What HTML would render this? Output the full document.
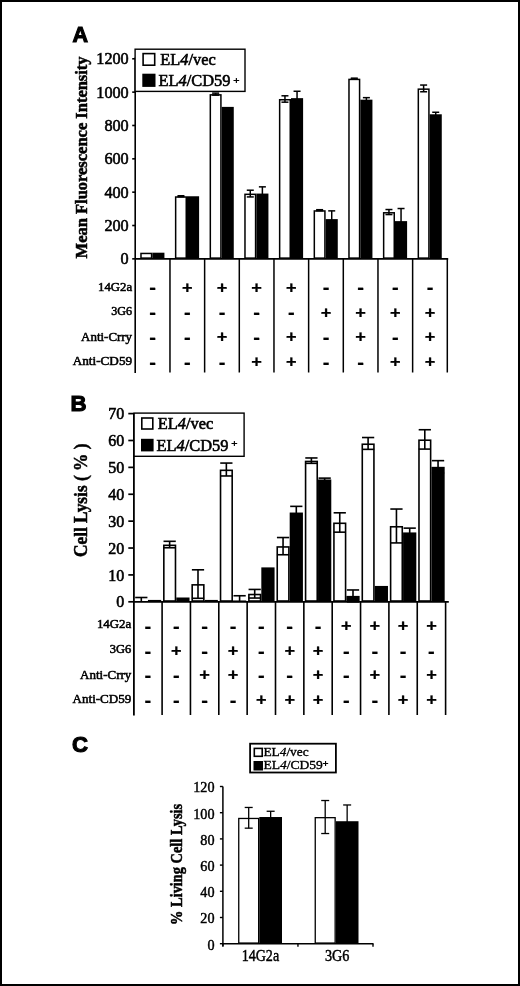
<!DOCTYPE html><html><head><meta charset="utf-8"><title>Figure</title><style>html,body{margin:0;padding:0;background:#fff;}svg{display:block;}</style></head><body>
<svg width="520" height="986" viewBox="0 0 520 986">
<rect x="0" y="0" width="520" height="986" fill="#fff"/>
<g stroke="#000" fill="#000">
<text x="72.60" y="42.20" font-size="21.5" text-anchor="start" font-weight="bold" font-family="'Liberation Sans', Arial, sans-serif" stroke="#000" stroke-width="1.1" >A</text>
<text transform="translate(86.9,157.4) rotate(-90)" x="0" y="0" font-size="16.8" text-anchor="middle" font-weight="bold" font-family="'Liberation Serif', 'Times New Roman', serif" stroke="#000" stroke-width="0.5" textLength="202" lengthAdjust="spacingAndGlyphs">Mean Fluorescence Intensity</text>
<line x1="132.20" y1="258.85" x2="135.20" y2="258.85" stroke-width="1.6"/>
<text x="128.70" y="264.45" font-size="16.8" text-anchor="end" font-weight="normal" font-family="'Liberation Serif', 'Times New Roman', serif" stroke="#000" stroke-width="0.6"  textLength="8.1" lengthAdjust="spacingAndGlyphs">0</text>
<line x1="132.20" y1="225.51" x2="135.20" y2="225.51" stroke-width="1.6"/>
<text x="128.70" y="231.11" font-size="16.8" text-anchor="end" font-weight="normal" font-family="'Liberation Serif', 'Times New Roman', serif" stroke="#000" stroke-width="0.6"  textLength="24.299999999999997" lengthAdjust="spacingAndGlyphs">200</text>
<line x1="132.20" y1="192.17" x2="135.20" y2="192.17" stroke-width="1.6"/>
<text x="128.70" y="197.77" font-size="16.8" text-anchor="end" font-weight="normal" font-family="'Liberation Serif', 'Times New Roman', serif" stroke="#000" stroke-width="0.6"  textLength="24.299999999999997" lengthAdjust="spacingAndGlyphs">400</text>
<line x1="132.20" y1="158.83" x2="135.20" y2="158.83" stroke-width="1.6"/>
<text x="128.70" y="164.43" font-size="16.8" text-anchor="end" font-weight="normal" font-family="'Liberation Serif', 'Times New Roman', serif" stroke="#000" stroke-width="0.6"  textLength="24.299999999999997" lengthAdjust="spacingAndGlyphs">600</text>
<line x1="132.20" y1="125.48" x2="135.20" y2="125.48" stroke-width="1.6"/>
<text x="128.70" y="131.08" font-size="16.8" text-anchor="end" font-weight="normal" font-family="'Liberation Serif', 'Times New Roman', serif" stroke="#000" stroke-width="0.6"  textLength="24.299999999999997" lengthAdjust="spacingAndGlyphs">800</text>
<line x1="132.20" y1="92.14" x2="135.20" y2="92.14" stroke-width="1.6"/>
<text x="128.70" y="97.74" font-size="16.8" text-anchor="end" font-weight="normal" font-family="'Liberation Serif', 'Times New Roman', serif" stroke="#000" stroke-width="0.6"  textLength="32.4" lengthAdjust="spacingAndGlyphs">1000</text>
<line x1="132.20" y1="58.80" x2="135.20" y2="58.80" stroke-width="1.6"/>
<text x="128.70" y="64.40" font-size="16.8" text-anchor="end" font-weight="normal" font-family="'Liberation Serif', 'Times New Roman', serif" stroke="#000" stroke-width="0.6"  textLength="32.4" lengthAdjust="spacingAndGlyphs">1200</text>
<line x1="135.20" y1="57.50" x2="135.20" y2="373.00" stroke-width="1.6"/>
<line x1="135.20" y1="258.85" x2="448.20" y2="258.85" stroke-width="1.6"/>
<line x1="169.97" y1="258.85" x2="169.97" y2="372.50" stroke-width="1.5"/>
<line x1="204.63" y1="258.85" x2="204.63" y2="372.50" stroke-width="1.5"/>
<line x1="239.30" y1="258.85" x2="239.30" y2="372.50" stroke-width="1.5"/>
<line x1="273.97" y1="258.85" x2="273.97" y2="372.50" stroke-width="1.5"/>
<line x1="308.63" y1="258.85" x2="308.63" y2="372.50" stroke-width="1.5"/>
<line x1="343.30" y1="258.85" x2="343.30" y2="372.50" stroke-width="1.5"/>
<line x1="377.97" y1="258.85" x2="377.97" y2="372.50" stroke-width="1.5"/>
<line x1="412.63" y1="258.85" x2="412.63" y2="372.50" stroke-width="1.5"/>
<line x1="447.30" y1="258.85" x2="447.30" y2="372.50" stroke-width="1.5"/>
<rect x="140.98" y="253.45" width="10.60" height="4.65" fill="#fff" stroke="#000" stroke-width="1.5"/>
<rect x="152.33" y="252.70" width="12.10" height="6.15" fill="#000" stroke="none"/>
<rect x="175.65" y="197.01" width="10.60" height="61.09" fill="#fff" stroke="#000" stroke-width="1.5"/>
<rect x="187.00" y="196.26" width="12.10" height="62.59" fill="#000" stroke="none"/>
<line x1="180.95" y1="195.75" x2="180.95" y2="196.76" stroke-width="1.5"/>
<line x1="177.45" y1="195.75" x2="184.45" y2="195.75" stroke-width="1.5"/>
<line x1="177.45" y1="196.76" x2="184.45" y2="196.76" stroke-width="1.5"/>
<rect x="210.32" y="94.87" width="10.60" height="163.23" fill="#fff" stroke="#000" stroke-width="1.5"/>
<rect x="221.67" y="106.89" width="12.10" height="151.96" fill="#000" stroke="none"/>
<line x1="215.62" y1="93.11" x2="215.62" y2="95.13" stroke-width="1.5"/>
<line x1="212.12" y1="93.11" x2="219.12" y2="93.11" stroke-width="1.5"/>
<line x1="212.12" y1="95.13" x2="219.12" y2="95.13" stroke-width="1.5"/>
<rect x="244.98" y="194.32" width="10.60" height="63.78" fill="#fff" stroke="#000" stroke-width="1.5"/>
<rect x="256.33" y="193.57" width="12.10" height="65.28" fill="#000" stroke="none"/>
<line x1="250.28" y1="190.21" x2="250.28" y2="196.93" stroke-width="1.5"/>
<line x1="246.78" y1="190.21" x2="253.78" y2="190.21" stroke-width="1.5"/>
<line x1="246.78" y1="196.93" x2="253.78" y2="196.93" stroke-width="1.5"/>
<line x1="262.38" y1="186.85" x2="262.38" y2="200.29" stroke-width="1.5"/>
<line x1="258.88" y1="186.85" x2="265.88" y2="186.85" stroke-width="1.5"/>
<line x1="258.88" y1="200.29" x2="265.88" y2="200.29" stroke-width="1.5"/>
<rect x="279.65" y="99.74" width="10.60" height="158.36" fill="#fff" stroke="#000" stroke-width="1.5"/>
<rect x="291.00" y="98.15" width="12.10" height="160.70" fill="#000" stroke="none"/>
<line x1="284.95" y1="95.80" x2="284.95" y2="102.18" stroke-width="1.5"/>
<line x1="281.45" y1="95.80" x2="288.45" y2="95.80" stroke-width="1.5"/>
<line x1="281.45" y1="102.18" x2="288.45" y2="102.18" stroke-width="1.5"/>
<line x1="297.05" y1="91.26" x2="297.05" y2="105.04" stroke-width="1.5"/>
<line x1="293.55" y1="91.26" x2="300.55" y2="91.26" stroke-width="1.5"/>
<line x1="293.55" y1="105.04" x2="300.55" y2="105.04" stroke-width="1.5"/>
<rect x="314.32" y="210.95" width="10.60" height="47.15" fill="#fff" stroke="#000" stroke-width="1.5"/>
<rect x="325.67" y="219.10" width="12.10" height="39.75" fill="#000" stroke="none"/>
<line x1="319.62" y1="209.70" x2="319.62" y2="210.70" stroke-width="1.5"/>
<line x1="316.12" y1="209.70" x2="323.12" y2="209.70" stroke-width="1.5"/>
<line x1="316.12" y1="210.70" x2="323.12" y2="210.70" stroke-width="1.5"/>
<line x1="331.72" y1="210.87" x2="331.72" y2="227.34" stroke-width="1.5"/>
<line x1="328.22" y1="210.87" x2="335.22" y2="210.87" stroke-width="1.5"/>
<line x1="328.22" y1="227.34" x2="335.22" y2="227.34" stroke-width="1.5"/>
<rect x="348.98" y="79.41" width="10.60" height="178.69" fill="#fff" stroke="#000" stroke-width="1.5"/>
<rect x="360.33" y="99.66" width="12.10" height="159.19" fill="#000" stroke="none"/>
<line x1="354.28" y1="78.16" x2="354.28" y2="79.17" stroke-width="1.5"/>
<line x1="350.78" y1="78.16" x2="357.78" y2="78.16" stroke-width="1.5"/>
<line x1="350.78" y1="79.17" x2="357.78" y2="79.17" stroke-width="1.5"/>
<line x1="366.38" y1="97.65" x2="366.38" y2="101.68" stroke-width="1.5"/>
<line x1="362.88" y1="97.65" x2="369.88" y2="97.65" stroke-width="1.5"/>
<line x1="362.88" y1="101.68" x2="369.88" y2="101.68" stroke-width="1.5"/>
<rect x="383.65" y="212.80" width="10.60" height="45.30" fill="#fff" stroke="#000" stroke-width="1.5"/>
<rect x="395.00" y="221.12" width="12.10" height="37.73" fill="#000" stroke="none"/>
<line x1="388.95" y1="209.53" x2="388.95" y2="214.57" stroke-width="1.5"/>
<line x1="385.45" y1="209.53" x2="392.45" y2="209.53" stroke-width="1.5"/>
<line x1="385.45" y1="214.57" x2="392.45" y2="214.57" stroke-width="1.5"/>
<line x1="401.05" y1="208.52" x2="401.05" y2="233.72" stroke-width="1.5"/>
<line x1="397.55" y1="208.52" x2="404.55" y2="208.52" stroke-width="1.5"/>
<line x1="397.55" y1="233.72" x2="404.55" y2="233.72" stroke-width="1.5"/>
<rect x="418.32" y="89.16" width="10.60" height="168.94" fill="#fff" stroke="#000" stroke-width="1.5"/>
<rect x="429.67" y="114.28" width="12.10" height="144.57" fill="#000" stroke="none"/>
<line x1="423.62" y1="85.05" x2="423.62" y2="91.77" stroke-width="1.5"/>
<line x1="420.12" y1="85.05" x2="427.12" y2="85.05" stroke-width="1.5"/>
<line x1="420.12" y1="91.77" x2="427.12" y2="91.77" stroke-width="1.5"/>
<line x1="435.72" y1="112.26" x2="435.72" y2="116.29" stroke-width="1.5"/>
<line x1="432.22" y1="112.26" x2="439.22" y2="112.26" stroke-width="1.5"/>
<line x1="432.22" y1="116.29" x2="439.22" y2="116.29" stroke-width="1.5"/>
<rect x="135.10" y="49.20" width="109.90" height="42.20" fill="#fff" stroke="#000" stroke-width="1.4"/>
<rect x="143.10" y="53.60" width="11.60" height="11.60" fill="#fff" stroke="#000" stroke-width="1.6"/>
<rect x="142.30" y="73.70" width="13.20" height="13.20" fill="#000" stroke="none"/>
<text x="160.30" y="64.80" font-size="16.3" text-anchor="start" font-weight="normal" font-family="'Liberation Serif', 'Times New Roman', serif" stroke="#000" stroke-width="0.6"  textLength="55.5" lengthAdjust="spacingAndGlyphs">EL<tspan font-style="italic">4</tspan>/vec</text>
<text x="158.50" y="85.90" font-size="16.3" text-anchor="start" font-weight="normal" font-family="'Liberation Serif', 'Times New Roman', serif" stroke="#000" stroke-width="0.6"  textLength="72" lengthAdjust="spacingAndGlyphs">EL<tspan font-style="italic">4</tspan>/CD59</text>
<text x="233.20" y="83.60" font-size="11" text-anchor="start" font-weight="normal" font-family="'Liberation Serif', 'Times New Roman', serif" stroke="#000" stroke-width="0.55" >+</text>
<text x="132.10" y="291.00" font-size="12.8" text-anchor="end" font-weight="normal" font-family="'Liberation Serif', 'Times New Roman', serif" stroke="#000" stroke-width="0.55"  textLength="34" lengthAdjust="spacingAndGlyphs">14G2a</text>
<text x="132.10" y="315.30" font-size="12.8" text-anchor="end" font-weight="normal" font-family="'Liberation Serif', 'Times New Roman', serif" stroke="#000" stroke-width="0.55"  textLength="20.9" lengthAdjust="spacingAndGlyphs">3G6</text>
<text x="132.10" y="340.60" font-size="12.8" text-anchor="end" font-weight="normal" font-family="'Liberation Serif', 'Times New Roman', serif" stroke="#000" stroke-width="0.55"  textLength="51" lengthAdjust="spacingAndGlyphs">Anti-Crry</text>
<text x="132.10" y="365.30" font-size="12.8" text-anchor="end" font-weight="normal" font-family="'Liberation Serif', 'Times New Roman', serif" stroke="#000" stroke-width="0.55"  textLength="59.4" lengthAdjust="spacingAndGlyphs">Anti-CD59</text>
<text transform="translate(152.67,294.36) scale(1.22,1.1)" x="0" y="0" font-size="16.5" text-anchor="middle" font-weight="bold" font-family="'Liberation Sans', Arial, sans-serif" stroke="#000" stroke-width="0.2">-</text>
<text transform="translate(187.30,292.56) scale(1.1,0.95)" x="0" y="0" font-size="16.5" text-anchor="middle" font-weight="bold" font-family="'Liberation Sans', Arial, sans-serif" stroke="#000" stroke-width="0.25">+</text>
<text transform="translate(221.97,292.56) scale(1.1,0.95)" x="0" y="0" font-size="16.5" text-anchor="middle" font-weight="bold" font-family="'Liberation Sans', Arial, sans-serif" stroke="#000" stroke-width="0.25">+</text>
<text transform="translate(256.63,292.56) scale(1.1,0.95)" x="0" y="0" font-size="16.5" text-anchor="middle" font-weight="bold" font-family="'Liberation Sans', Arial, sans-serif" stroke="#000" stroke-width="0.25">+</text>
<text transform="translate(291.30,292.56) scale(1.1,0.95)" x="0" y="0" font-size="16.5" text-anchor="middle" font-weight="bold" font-family="'Liberation Sans', Arial, sans-serif" stroke="#000" stroke-width="0.25">+</text>
<text transform="translate(326.01,294.36) scale(1.22,1.1)" x="0" y="0" font-size="16.5" text-anchor="middle" font-weight="bold" font-family="'Liberation Sans', Arial, sans-serif" stroke="#000" stroke-width="0.2">-</text>
<text transform="translate(360.67,294.36) scale(1.22,1.1)" x="0" y="0" font-size="16.5" text-anchor="middle" font-weight="bold" font-family="'Liberation Sans', Arial, sans-serif" stroke="#000" stroke-width="0.2">-</text>
<text transform="translate(395.34,294.36) scale(1.22,1.1)" x="0" y="0" font-size="16.5" text-anchor="middle" font-weight="bold" font-family="'Liberation Sans', Arial, sans-serif" stroke="#000" stroke-width="0.2">-</text>
<text transform="translate(430.01,294.36) scale(1.22,1.1)" x="0" y="0" font-size="16.5" text-anchor="middle" font-weight="bold" font-family="'Liberation Sans', Arial, sans-serif" stroke="#000" stroke-width="0.2">-</text>
<text transform="translate(152.67,319.36) scale(1.22,1.1)" x="0" y="0" font-size="16.5" text-anchor="middle" font-weight="bold" font-family="'Liberation Sans', Arial, sans-serif" stroke="#000" stroke-width="0.2">-</text>
<text transform="translate(187.34,319.36) scale(1.22,1.1)" x="0" y="0" font-size="16.5" text-anchor="middle" font-weight="bold" font-family="'Liberation Sans', Arial, sans-serif" stroke="#000" stroke-width="0.2">-</text>
<text transform="translate(222.01,319.36) scale(1.22,1.1)" x="0" y="0" font-size="16.5" text-anchor="middle" font-weight="bold" font-family="'Liberation Sans', Arial, sans-serif" stroke="#000" stroke-width="0.2">-</text>
<text transform="translate(256.67,319.36) scale(1.22,1.1)" x="0" y="0" font-size="16.5" text-anchor="middle" font-weight="bold" font-family="'Liberation Sans', Arial, sans-serif" stroke="#000" stroke-width="0.2">-</text>
<text transform="translate(291.34,319.36) scale(1.22,1.1)" x="0" y="0" font-size="16.5" text-anchor="middle" font-weight="bold" font-family="'Liberation Sans', Arial, sans-serif" stroke="#000" stroke-width="0.2">-</text>
<text transform="translate(325.97,317.56) scale(1.1,0.95)" x="0" y="0" font-size="16.5" text-anchor="middle" font-weight="bold" font-family="'Liberation Sans', Arial, sans-serif" stroke="#000" stroke-width="0.25">+</text>
<text transform="translate(360.63,317.56) scale(1.1,0.95)" x="0" y="0" font-size="16.5" text-anchor="middle" font-weight="bold" font-family="'Liberation Sans', Arial, sans-serif" stroke="#000" stroke-width="0.25">+</text>
<text transform="translate(395.30,317.56) scale(1.1,0.95)" x="0" y="0" font-size="16.5" text-anchor="middle" font-weight="bold" font-family="'Liberation Sans', Arial, sans-serif" stroke="#000" stroke-width="0.25">+</text>
<text transform="translate(429.97,317.56) scale(1.1,0.95)" x="0" y="0" font-size="16.5" text-anchor="middle" font-weight="bold" font-family="'Liberation Sans', Arial, sans-serif" stroke="#000" stroke-width="0.25">+</text>
<text transform="translate(152.67,344.26) scale(1.22,1.1)" x="0" y="0" font-size="16.5" text-anchor="middle" font-weight="bold" font-family="'Liberation Sans', Arial, sans-serif" stroke="#000" stroke-width="0.2">-</text>
<text transform="translate(187.34,344.26) scale(1.22,1.1)" x="0" y="0" font-size="16.5" text-anchor="middle" font-weight="bold" font-family="'Liberation Sans', Arial, sans-serif" stroke="#000" stroke-width="0.2">-</text>
<text transform="translate(221.97,342.46) scale(1.1,0.95)" x="0" y="0" font-size="16.5" text-anchor="middle" font-weight="bold" font-family="'Liberation Sans', Arial, sans-serif" stroke="#000" stroke-width="0.25">+</text>
<text transform="translate(256.67,344.26) scale(1.22,1.1)" x="0" y="0" font-size="16.5" text-anchor="middle" font-weight="bold" font-family="'Liberation Sans', Arial, sans-serif" stroke="#000" stroke-width="0.2">-</text>
<text transform="translate(291.30,342.46) scale(1.1,0.95)" x="0" y="0" font-size="16.5" text-anchor="middle" font-weight="bold" font-family="'Liberation Sans', Arial, sans-serif" stroke="#000" stroke-width="0.25">+</text>
<text transform="translate(326.01,344.26) scale(1.22,1.1)" x="0" y="0" font-size="16.5" text-anchor="middle" font-weight="bold" font-family="'Liberation Sans', Arial, sans-serif" stroke="#000" stroke-width="0.2">-</text>
<text transform="translate(360.63,342.46) scale(1.1,0.95)" x="0" y="0" font-size="16.5" text-anchor="middle" font-weight="bold" font-family="'Liberation Sans', Arial, sans-serif" stroke="#000" stroke-width="0.25">+</text>
<text transform="translate(395.34,344.26) scale(1.22,1.1)" x="0" y="0" font-size="16.5" text-anchor="middle" font-weight="bold" font-family="'Liberation Sans', Arial, sans-serif" stroke="#000" stroke-width="0.2">-</text>
<text transform="translate(429.97,342.46) scale(1.1,0.95)" x="0" y="0" font-size="16.5" text-anchor="middle" font-weight="bold" font-family="'Liberation Sans', Arial, sans-serif" stroke="#000" stroke-width="0.25">+</text>
<text transform="translate(152.67,369.26) scale(1.22,1.1)" x="0" y="0" font-size="16.5" text-anchor="middle" font-weight="bold" font-family="'Liberation Sans', Arial, sans-serif" stroke="#000" stroke-width="0.2">-</text>
<text transform="translate(187.34,369.26) scale(1.22,1.1)" x="0" y="0" font-size="16.5" text-anchor="middle" font-weight="bold" font-family="'Liberation Sans', Arial, sans-serif" stroke="#000" stroke-width="0.2">-</text>
<text transform="translate(222.01,369.26) scale(1.22,1.1)" x="0" y="0" font-size="16.5" text-anchor="middle" font-weight="bold" font-family="'Liberation Sans', Arial, sans-serif" stroke="#000" stroke-width="0.2">-</text>
<text transform="translate(256.63,367.46) scale(1.1,0.95)" x="0" y="0" font-size="16.5" text-anchor="middle" font-weight="bold" font-family="'Liberation Sans', Arial, sans-serif" stroke="#000" stroke-width="0.25">+</text>
<text transform="translate(291.30,367.46) scale(1.1,0.95)" x="0" y="0" font-size="16.5" text-anchor="middle" font-weight="bold" font-family="'Liberation Sans', Arial, sans-serif" stroke="#000" stroke-width="0.25">+</text>
<text transform="translate(326.01,369.26) scale(1.22,1.1)" x="0" y="0" font-size="16.5" text-anchor="middle" font-weight="bold" font-family="'Liberation Sans', Arial, sans-serif" stroke="#000" stroke-width="0.2">-</text>
<text transform="translate(360.67,369.26) scale(1.22,1.1)" x="0" y="0" font-size="16.5" text-anchor="middle" font-weight="bold" font-family="'Liberation Sans', Arial, sans-serif" stroke="#000" stroke-width="0.2">-</text>
<text transform="translate(395.30,367.46) scale(1.1,0.95)" x="0" y="0" font-size="16.5" text-anchor="middle" font-weight="bold" font-family="'Liberation Sans', Arial, sans-serif" stroke="#000" stroke-width="0.25">+</text>
<text transform="translate(429.97,367.46) scale(1.1,0.95)" x="0" y="0" font-size="16.5" text-anchor="middle" font-weight="bold" font-family="'Liberation Sans', Arial, sans-serif" stroke="#000" stroke-width="0.25">+</text>
<text x="70.60" y="410.70" font-size="22.2" text-anchor="start" font-weight="bold" font-family="'Liberation Sans', Arial, sans-serif" stroke="#000" stroke-width="1.1" >B</text>
<text transform="translate(87.3,500.3) rotate(-90)" x="0" y="0" font-size="19" text-anchor="middle" font-weight="bold" font-family="'Liberation Serif', 'Times New Roman', serif" stroke="#000" stroke-width="0.5" textLength="113.5" lengthAdjust="spacingAndGlyphs">Cell Lysis ( % )</text>
<line x1="128.30" y1="601.80" x2="133.90" y2="601.80" stroke-width="1.7"/>
<text x="124.20" y="607.40" font-size="16.6" text-anchor="end" font-weight="normal" font-family="'Liberation Serif', 'Times New Roman', serif" stroke="#000" stroke-width="0.6"  textLength="8.0" lengthAdjust="spacingAndGlyphs">0</text>
<line x1="128.30" y1="574.91" x2="133.90" y2="574.91" stroke-width="1.7"/>
<text x="124.20" y="580.51" font-size="16.6" text-anchor="end" font-weight="normal" font-family="'Liberation Serif', 'Times New Roman', serif" stroke="#000" stroke-width="0.6"  textLength="16.0" lengthAdjust="spacingAndGlyphs">10</text>
<line x1="128.30" y1="548.03" x2="133.90" y2="548.03" stroke-width="1.7"/>
<text x="124.20" y="553.63" font-size="16.6" text-anchor="end" font-weight="normal" font-family="'Liberation Serif', 'Times New Roman', serif" stroke="#000" stroke-width="0.6"  textLength="16.0" lengthAdjust="spacingAndGlyphs">20</text>
<line x1="128.30" y1="521.14" x2="133.90" y2="521.14" stroke-width="1.7"/>
<text x="124.20" y="526.74" font-size="16.6" text-anchor="end" font-weight="normal" font-family="'Liberation Serif', 'Times New Roman', serif" stroke="#000" stroke-width="0.6"  textLength="16.0" lengthAdjust="spacingAndGlyphs">30</text>
<line x1="128.30" y1="494.26" x2="133.90" y2="494.26" stroke-width="1.7"/>
<text x="124.20" y="499.86" font-size="16.6" text-anchor="end" font-weight="normal" font-family="'Liberation Serif', 'Times New Roman', serif" stroke="#000" stroke-width="0.6"  textLength="16.0" lengthAdjust="spacingAndGlyphs">40</text>
<line x1="128.30" y1="467.37" x2="133.90" y2="467.37" stroke-width="1.7"/>
<text x="124.20" y="472.97" font-size="16.6" text-anchor="end" font-weight="normal" font-family="'Liberation Serif', 'Times New Roman', serif" stroke="#000" stroke-width="0.6"  textLength="16.0" lengthAdjust="spacingAndGlyphs">50</text>
<line x1="128.30" y1="440.49" x2="133.90" y2="440.49" stroke-width="1.7"/>
<text x="124.20" y="446.09" font-size="16.6" text-anchor="end" font-weight="normal" font-family="'Liberation Serif', 'Times New Roman', serif" stroke="#000" stroke-width="0.6"  textLength="16.0" lengthAdjust="spacingAndGlyphs">60</text>
<line x1="128.30" y1="413.60" x2="133.90" y2="413.60" stroke-width="1.7"/>
<text x="124.20" y="419.20" font-size="16.6" text-anchor="end" font-weight="normal" font-family="'Liberation Serif', 'Times New Roman', serif" stroke="#000" stroke-width="0.6"  textLength="16.0" lengthAdjust="spacingAndGlyphs">70</text>
<line x1="133.90" y1="413.00" x2="133.90" y2="715.50" stroke-width="1.8"/>
<line x1="133.90" y1="601.80" x2="448.80" y2="601.80" stroke-width="1.7"/>
<line x1="162.10" y1="601.80" x2="162.10" y2="715.00" stroke-width="1.6"/>
<line x1="190.45" y1="601.80" x2="190.45" y2="715.00" stroke-width="1.6"/>
<line x1="218.80" y1="601.80" x2="218.80" y2="715.00" stroke-width="1.6"/>
<line x1="247.15" y1="601.80" x2="247.15" y2="715.00" stroke-width="1.6"/>
<line x1="275.50" y1="601.80" x2="275.50" y2="715.00" stroke-width="1.6"/>
<line x1="303.85" y1="601.80" x2="303.85" y2="715.00" stroke-width="1.6"/>
<line x1="332.20" y1="601.80" x2="332.20" y2="715.00" stroke-width="1.6"/>
<line x1="360.55" y1="601.80" x2="360.55" y2="715.00" stroke-width="1.6"/>
<line x1="388.90" y1="601.80" x2="388.90" y2="715.00" stroke-width="1.6"/>
<line x1="417.25" y1="601.80" x2="417.25" y2="715.00" stroke-width="1.6"/>
<line x1="445.60" y1="601.80" x2="445.60" y2="715.00" stroke-width="1.6"/>
<rect x="135.48" y="602.20" width="11.65" height="-1.20" fill="#fff" stroke="#000" stroke-width="1.6"/>
<rect x="147.93" y="599.92" width="13.25" height="1.88" fill="#000" stroke="none"/>
<line x1="141.30" y1="597.50" x2="141.30" y2="601.80" stroke-width="1.6"/>
<line x1="135.18" y1="597.50" x2="147.43" y2="597.50" stroke-width="1.6"/>
<rect x="163.83" y="545.33" width="11.65" height="55.67" fill="#fff" stroke="#000" stroke-width="1.6"/>
<rect x="176.28" y="597.50" width="13.25" height="4.30" fill="#000" stroke="none"/>
<line x1="169.65" y1="541.31" x2="169.65" y2="547.76" stroke-width="1.6"/>
<line x1="163.53" y1="541.31" x2="175.78" y2="541.31" stroke-width="1.6"/>
<line x1="163.53" y1="547.76" x2="175.78" y2="547.76" stroke-width="1.6"/>
<rect x="192.18" y="584.86" width="11.65" height="16.14" fill="#fff" stroke="#000" stroke-width="1.6"/>
<rect x="204.62" y="599.92" width="13.25" height="1.88" fill="#000" stroke="none"/>
<line x1="198.00" y1="569.81" x2="198.00" y2="598.30" stroke-width="1.6"/>
<line x1="191.88" y1="569.81" x2="204.12" y2="569.81" stroke-width="1.6"/>
<line x1="191.88" y1="598.30" x2="204.12" y2="598.30" stroke-width="1.6"/>
<rect x="220.53" y="470.32" width="11.65" height="130.68" fill="#fff" stroke="#000" stroke-width="1.6"/>
<rect x="232.98" y="600.46" width="13.25" height="1.34" fill="#000" stroke="none"/>
<line x1="226.35" y1="463.07" x2="226.35" y2="475.97" stroke-width="1.6"/>
<line x1="220.23" y1="463.07" x2="232.48" y2="463.07" stroke-width="1.6"/>
<line x1="220.23" y1="475.97" x2="232.48" y2="475.97" stroke-width="1.6"/>
<line x1="239.60" y1="595.75" x2="239.60" y2="601.80" stroke-width="1.6"/>
<line x1="233.48" y1="595.75" x2="245.73" y2="595.75" stroke-width="1.6"/>
<rect x="248.88" y="594.53" width="11.65" height="6.47" fill="#fff" stroke="#000" stroke-width="1.6"/>
<rect x="261.32" y="567.39" width="13.25" height="34.41" fill="#000" stroke="none"/>
<line x1="254.70" y1="589.43" x2="254.70" y2="598.04" stroke-width="1.6"/>
<line x1="248.57" y1="589.43" x2="260.82" y2="589.43" stroke-width="1.6"/>
<line x1="248.57" y1="598.04" x2="260.82" y2="598.04" stroke-width="1.6"/>
<rect x="277.23" y="546.95" width="11.65" height="54.05" fill="#fff" stroke="#000" stroke-width="1.6"/>
<rect x="289.68" y="512.54" width="13.25" height="89.26" fill="#000" stroke="none"/>
<line x1="283.05" y1="537.54" x2="283.05" y2="554.75" stroke-width="1.6"/>
<line x1="276.93" y1="537.54" x2="289.18" y2="537.54" stroke-width="1.6"/>
<line x1="276.93" y1="554.75" x2="289.18" y2="554.75" stroke-width="1.6"/>
<line x1="296.30" y1="506.36" x2="296.30" y2="518.72" stroke-width="1.6"/>
<line x1="290.18" y1="506.36" x2="302.43" y2="506.36" stroke-width="1.6"/>
<line x1="290.18" y1="518.72" x2="302.43" y2="518.72" stroke-width="1.6"/>
<rect x="305.58" y="461.45" width="11.65" height="139.55" fill="#fff" stroke="#000" stroke-width="1.6"/>
<rect x="318.03" y="479.47" width="13.25" height="122.33" fill="#000" stroke="none"/>
<line x1="311.40" y1="457.96" x2="311.40" y2="463.34" stroke-width="1.6"/>
<line x1="305.28" y1="457.96" x2="317.53" y2="457.96" stroke-width="1.6"/>
<line x1="305.28" y1="463.34" x2="317.53" y2="463.34" stroke-width="1.6"/>
<line x1="324.65" y1="478.13" x2="324.65" y2="480.81" stroke-width="1.6"/>
<line x1="318.53" y1="478.13" x2="330.78" y2="478.13" stroke-width="1.6"/>
<line x1="318.53" y1="480.81" x2="330.78" y2="480.81" stroke-width="1.6"/>
<rect x="333.93" y="523.29" width="11.65" height="77.71" fill="#fff" stroke="#000" stroke-width="1.6"/>
<rect x="346.38" y="595.89" width="13.25" height="5.91" fill="#000" stroke="none"/>
<line x1="339.75" y1="512.81" x2="339.75" y2="532.17" stroke-width="1.6"/>
<line x1="333.63" y1="512.81" x2="345.88" y2="512.81" stroke-width="1.6"/>
<line x1="333.63" y1="532.17" x2="345.88" y2="532.17" stroke-width="1.6"/>
<line x1="353.00" y1="589.97" x2="353.00" y2="601.80" stroke-width="1.6"/>
<line x1="346.88" y1="589.97" x2="359.13" y2="589.97" stroke-width="1.6"/>
<line x1="346.88" y1="601.80" x2="359.13" y2="601.80" stroke-width="1.6"/>
<rect x="362.28" y="444.24" width="11.65" height="156.76" fill="#fff" stroke="#000" stroke-width="1.6"/>
<rect x="374.73" y="585.94" width="13.25" height="15.86" fill="#000" stroke="none"/>
<line x1="368.10" y1="437.53" x2="368.10" y2="449.36" stroke-width="1.6"/>
<line x1="361.98" y1="437.53" x2="374.23" y2="437.53" stroke-width="1.6"/>
<line x1="361.98" y1="449.36" x2="374.23" y2="449.36" stroke-width="1.6"/>
<rect x="390.62" y="526.78" width="11.65" height="74.22" fill="#fff" stroke="#000" stroke-width="1.6"/>
<rect x="403.07" y="532.43" width="13.25" height="69.37" fill="#000" stroke="none"/>
<line x1="396.45" y1="509.04" x2="396.45" y2="542.92" stroke-width="1.6"/>
<line x1="390.32" y1="509.04" x2="402.57" y2="509.04" stroke-width="1.6"/>
<line x1="390.32" y1="542.92" x2="402.57" y2="542.92" stroke-width="1.6"/>
<line x1="409.70" y1="528.13" x2="409.70" y2="536.74" stroke-width="1.6"/>
<line x1="403.57" y1="528.13" x2="415.82" y2="528.13" stroke-width="1.6"/>
<line x1="403.57" y1="536.74" x2="415.82" y2="536.74" stroke-width="1.6"/>
<rect x="418.98" y="440.21" width="11.65" height="160.79" fill="#fff" stroke="#000" stroke-width="1.6"/>
<rect x="431.43" y="466.83" width="13.25" height="134.97" fill="#000" stroke="none"/>
<line x1="424.80" y1="429.73" x2="424.80" y2="449.09" stroke-width="1.6"/>
<line x1="418.68" y1="429.73" x2="430.93" y2="429.73" stroke-width="1.6"/>
<line x1="418.68" y1="449.09" x2="430.93" y2="449.09" stroke-width="1.6"/>
<line x1="438.05" y1="460.65" x2="438.05" y2="473.02" stroke-width="1.6"/>
<line x1="431.93" y1="460.65" x2="444.18" y2="460.65" stroke-width="1.6"/>
<line x1="431.93" y1="473.02" x2="444.18" y2="473.02" stroke-width="1.6"/>
<rect x="134.10" y="413.10" width="110.00" height="43.20" fill="#fff" stroke="#000" stroke-width="1.4"/>
<rect x="141.80" y="418.00" width="11.00" height="11.00" fill="#fff" stroke="#000" stroke-width="1.6"/>
<rect x="141.00" y="438.80" width="12.60" height="12.60" fill="#000" stroke="none"/>
<text x="157.70" y="429.00" font-size="16.3" text-anchor="start" font-weight="normal" font-family="'Liberation Serif', 'Times New Roman', serif" stroke="#000" stroke-width="0.6"  textLength="55.5" lengthAdjust="spacingAndGlyphs">EL<tspan font-style="italic">4</tspan>/vec</text>
<text x="156.50" y="450.60" font-size="16.3" text-anchor="start" font-weight="normal" font-family="'Liberation Serif', 'Times New Roman', serif" stroke="#000" stroke-width="0.6"  textLength="72" lengthAdjust="spacingAndGlyphs">EL<tspan font-style="italic">4</tspan>/CD59</text>
<text x="231.30" y="447.10" font-size="11" text-anchor="start" font-weight="normal" font-family="'Liberation Serif', 'Times New Roman', serif" stroke="#000" stroke-width="0.55" >+</text>
<text x="131.30" y="628.20" font-size="12.8" text-anchor="end" font-weight="normal" font-family="'Liberation Serif', 'Times New Roman', serif" stroke="#000" stroke-width="0.55"  textLength="34.4" lengthAdjust="spacingAndGlyphs">14G2a</text>
<text x="131.30" y="653.10" font-size="12.8" text-anchor="end" font-weight="normal" font-family="'Liberation Serif', 'Times New Roman', serif" stroke="#000" stroke-width="0.55"  textLength="21.5" lengthAdjust="spacingAndGlyphs">3G6</text>
<text x="131.30" y="678.50" font-size="12.8" text-anchor="end" font-weight="normal" font-family="'Liberation Serif', 'Times New Roman', serif" stroke="#000" stroke-width="0.55"  textLength="51.2" lengthAdjust="spacingAndGlyphs">Anti-Crry</text>
<text x="131.30" y="703.20" font-size="12.8" text-anchor="end" font-weight="normal" font-family="'Liberation Serif', 'Times New Roman', serif" stroke="#000" stroke-width="0.55"  textLength="58.7" lengthAdjust="spacingAndGlyphs">Anti-CD59</text>
<text transform="translate(147.97,632.86) scale(1.22,1.1)" x="0" y="0" font-size="16.5" text-anchor="middle" font-weight="bold" font-family="'Liberation Sans', Arial, sans-serif" stroke="#000" stroke-width="0.2">-</text>
<text transform="translate(176.31,632.86) scale(1.22,1.1)" x="0" y="0" font-size="16.5" text-anchor="middle" font-weight="bold" font-family="'Liberation Sans', Arial, sans-serif" stroke="#000" stroke-width="0.2">-</text>
<text transform="translate(204.66,632.86) scale(1.22,1.1)" x="0" y="0" font-size="16.5" text-anchor="middle" font-weight="bold" font-family="'Liberation Sans', Arial, sans-serif" stroke="#000" stroke-width="0.2">-</text>
<text transform="translate(233.02,632.86) scale(1.22,1.1)" x="0" y="0" font-size="16.5" text-anchor="middle" font-weight="bold" font-family="'Liberation Sans', Arial, sans-serif" stroke="#000" stroke-width="0.2">-</text>
<text transform="translate(261.37,632.86) scale(1.22,1.1)" x="0" y="0" font-size="16.5" text-anchor="middle" font-weight="bold" font-family="'Liberation Sans', Arial, sans-serif" stroke="#000" stroke-width="0.2">-</text>
<text transform="translate(289.72,632.86) scale(1.22,1.1)" x="0" y="0" font-size="16.5" text-anchor="middle" font-weight="bold" font-family="'Liberation Sans', Arial, sans-serif" stroke="#000" stroke-width="0.2">-</text>
<text transform="translate(318.07,632.86) scale(1.22,1.1)" x="0" y="0" font-size="16.5" text-anchor="middle" font-weight="bold" font-family="'Liberation Sans', Arial, sans-serif" stroke="#000" stroke-width="0.2">-</text>
<text transform="translate(346.38,631.06) scale(1.1,0.95)" x="0" y="0" font-size="16.5" text-anchor="middle" font-weight="bold" font-family="'Liberation Sans', Arial, sans-serif" stroke="#000" stroke-width="0.25">+</text>
<text transform="translate(374.73,631.06) scale(1.1,0.95)" x="0" y="0" font-size="16.5" text-anchor="middle" font-weight="bold" font-family="'Liberation Sans', Arial, sans-serif" stroke="#000" stroke-width="0.25">+</text>
<text transform="translate(403.07,631.06) scale(1.1,0.95)" x="0" y="0" font-size="16.5" text-anchor="middle" font-weight="bold" font-family="'Liberation Sans', Arial, sans-serif" stroke="#000" stroke-width="0.25">+</text>
<text transform="translate(431.43,631.06) scale(1.1,0.95)" x="0" y="0" font-size="16.5" text-anchor="middle" font-weight="bold" font-family="'Liberation Sans', Arial, sans-serif" stroke="#000" stroke-width="0.25">+</text>
<text transform="translate(147.97,657.56) scale(1.22,1.1)" x="0" y="0" font-size="16.5" text-anchor="middle" font-weight="bold" font-family="'Liberation Sans', Arial, sans-serif" stroke="#000" stroke-width="0.2">-</text>
<text transform="translate(176.28,655.76) scale(1.1,0.95)" x="0" y="0" font-size="16.5" text-anchor="middle" font-weight="bold" font-family="'Liberation Sans', Arial, sans-serif" stroke="#000" stroke-width="0.25">+</text>
<text transform="translate(204.66,657.56) scale(1.22,1.1)" x="0" y="0" font-size="16.5" text-anchor="middle" font-weight="bold" font-family="'Liberation Sans', Arial, sans-serif" stroke="#000" stroke-width="0.2">-</text>
<text transform="translate(232.98,655.76) scale(1.1,0.95)" x="0" y="0" font-size="16.5" text-anchor="middle" font-weight="bold" font-family="'Liberation Sans', Arial, sans-serif" stroke="#000" stroke-width="0.25">+</text>
<text transform="translate(261.37,657.56) scale(1.22,1.1)" x="0" y="0" font-size="16.5" text-anchor="middle" font-weight="bold" font-family="'Liberation Sans', Arial, sans-serif" stroke="#000" stroke-width="0.2">-</text>
<text transform="translate(289.68,655.76) scale(1.1,0.95)" x="0" y="0" font-size="16.5" text-anchor="middle" font-weight="bold" font-family="'Liberation Sans', Arial, sans-serif" stroke="#000" stroke-width="0.25">+</text>
<text transform="translate(318.03,655.76) scale(1.1,0.95)" x="0" y="0" font-size="16.5" text-anchor="middle" font-weight="bold" font-family="'Liberation Sans', Arial, sans-serif" stroke="#000" stroke-width="0.25">+</text>
<text transform="translate(346.42,657.56) scale(1.22,1.1)" x="0" y="0" font-size="16.5" text-anchor="middle" font-weight="bold" font-family="'Liberation Sans', Arial, sans-serif" stroke="#000" stroke-width="0.2">-</text>
<text transform="translate(374.77,657.56) scale(1.22,1.1)" x="0" y="0" font-size="16.5" text-anchor="middle" font-weight="bold" font-family="'Liberation Sans', Arial, sans-serif" stroke="#000" stroke-width="0.2">-</text>
<text transform="translate(403.12,657.56) scale(1.22,1.1)" x="0" y="0" font-size="16.5" text-anchor="middle" font-weight="bold" font-family="'Liberation Sans', Arial, sans-serif" stroke="#000" stroke-width="0.2">-</text>
<text transform="translate(431.47,657.56) scale(1.22,1.1)" x="0" y="0" font-size="16.5" text-anchor="middle" font-weight="bold" font-family="'Liberation Sans', Arial, sans-serif" stroke="#000" stroke-width="0.2">-</text>
<text transform="translate(147.97,682.26) scale(1.22,1.1)" x="0" y="0" font-size="16.5" text-anchor="middle" font-weight="bold" font-family="'Liberation Sans', Arial, sans-serif" stroke="#000" stroke-width="0.2">-</text>
<text transform="translate(176.31,682.26) scale(1.22,1.1)" x="0" y="0" font-size="16.5" text-anchor="middle" font-weight="bold" font-family="'Liberation Sans', Arial, sans-serif" stroke="#000" stroke-width="0.2">-</text>
<text transform="translate(204.62,680.46) scale(1.1,0.95)" x="0" y="0" font-size="16.5" text-anchor="middle" font-weight="bold" font-family="'Liberation Sans', Arial, sans-serif" stroke="#000" stroke-width="0.25">+</text>
<text transform="translate(232.98,680.46) scale(1.1,0.95)" x="0" y="0" font-size="16.5" text-anchor="middle" font-weight="bold" font-family="'Liberation Sans', Arial, sans-serif" stroke="#000" stroke-width="0.25">+</text>
<text transform="translate(261.37,682.26) scale(1.22,1.1)" x="0" y="0" font-size="16.5" text-anchor="middle" font-weight="bold" font-family="'Liberation Sans', Arial, sans-serif" stroke="#000" stroke-width="0.2">-</text>
<text transform="translate(289.72,682.26) scale(1.22,1.1)" x="0" y="0" font-size="16.5" text-anchor="middle" font-weight="bold" font-family="'Liberation Sans', Arial, sans-serif" stroke="#000" stroke-width="0.2">-</text>
<text transform="translate(318.03,680.46) scale(1.1,0.95)" x="0" y="0" font-size="16.5" text-anchor="middle" font-weight="bold" font-family="'Liberation Sans', Arial, sans-serif" stroke="#000" stroke-width="0.25">+</text>
<text transform="translate(346.42,682.26) scale(1.22,1.1)" x="0" y="0" font-size="16.5" text-anchor="middle" font-weight="bold" font-family="'Liberation Sans', Arial, sans-serif" stroke="#000" stroke-width="0.2">-</text>
<text transform="translate(374.73,680.46) scale(1.1,0.95)" x="0" y="0" font-size="16.5" text-anchor="middle" font-weight="bold" font-family="'Liberation Sans', Arial, sans-serif" stroke="#000" stroke-width="0.25">+</text>
<text transform="translate(403.12,682.26) scale(1.22,1.1)" x="0" y="0" font-size="16.5" text-anchor="middle" font-weight="bold" font-family="'Liberation Sans', Arial, sans-serif" stroke="#000" stroke-width="0.2">-</text>
<text transform="translate(431.43,680.46) scale(1.1,0.95)" x="0" y="0" font-size="16.5" text-anchor="middle" font-weight="bold" font-family="'Liberation Sans', Arial, sans-serif" stroke="#000" stroke-width="0.25">+</text>
<text transform="translate(147.97,707.01) scale(1.22,1.1)" x="0" y="0" font-size="16.5" text-anchor="middle" font-weight="bold" font-family="'Liberation Sans', Arial, sans-serif" stroke="#000" stroke-width="0.2">-</text>
<text transform="translate(176.31,707.01) scale(1.22,1.1)" x="0" y="0" font-size="16.5" text-anchor="middle" font-weight="bold" font-family="'Liberation Sans', Arial, sans-serif" stroke="#000" stroke-width="0.2">-</text>
<text transform="translate(204.66,707.01) scale(1.22,1.1)" x="0" y="0" font-size="16.5" text-anchor="middle" font-weight="bold" font-family="'Liberation Sans', Arial, sans-serif" stroke="#000" stroke-width="0.2">-</text>
<text transform="translate(233.02,707.01) scale(1.22,1.1)" x="0" y="0" font-size="16.5" text-anchor="middle" font-weight="bold" font-family="'Liberation Sans', Arial, sans-serif" stroke="#000" stroke-width="0.2">-</text>
<text transform="translate(261.32,705.21) scale(1.1,0.95)" x="0" y="0" font-size="16.5" text-anchor="middle" font-weight="bold" font-family="'Liberation Sans', Arial, sans-serif" stroke="#000" stroke-width="0.25">+</text>
<text transform="translate(289.68,705.21) scale(1.1,0.95)" x="0" y="0" font-size="16.5" text-anchor="middle" font-weight="bold" font-family="'Liberation Sans', Arial, sans-serif" stroke="#000" stroke-width="0.25">+</text>
<text transform="translate(318.03,705.21) scale(1.1,0.95)" x="0" y="0" font-size="16.5" text-anchor="middle" font-weight="bold" font-family="'Liberation Sans', Arial, sans-serif" stroke="#000" stroke-width="0.25">+</text>
<text transform="translate(346.42,707.01) scale(1.22,1.1)" x="0" y="0" font-size="16.5" text-anchor="middle" font-weight="bold" font-family="'Liberation Sans', Arial, sans-serif" stroke="#000" stroke-width="0.2">-</text>
<text transform="translate(374.77,707.01) scale(1.22,1.1)" x="0" y="0" font-size="16.5" text-anchor="middle" font-weight="bold" font-family="'Liberation Sans', Arial, sans-serif" stroke="#000" stroke-width="0.2">-</text>
<text transform="translate(403.07,705.21) scale(1.1,0.95)" x="0" y="0" font-size="16.5" text-anchor="middle" font-weight="bold" font-family="'Liberation Sans', Arial, sans-serif" stroke="#000" stroke-width="0.25">+</text>
<text transform="translate(431.43,705.21) scale(1.1,0.95)" x="0" y="0" font-size="16.5" text-anchor="middle" font-weight="bold" font-family="'Liberation Sans', Arial, sans-serif" stroke="#000" stroke-width="0.25">+</text>
<text x="72.00" y="752.40" font-size="22.2" text-anchor="start" font-weight="bold" font-family="'Liberation Sans', Arial, sans-serif" stroke="#000" stroke-width="1.1" >C</text>
<text transform="translate(182.4,864.4) rotate(-90)" x="0" y="0" font-size="16.6" text-anchor="middle" font-weight="bold" font-family="'Liberation Serif', 'Times New Roman', serif" stroke="#000" stroke-width="0.5" textLength="121" lengthAdjust="spacingAndGlyphs">% Living Cell Lysis</text>
<line x1="219.90" y1="943.70" x2="222.90" y2="943.70" stroke-width="1.4"/>
<text x="214.50" y="949.50" font-size="14.6" text-anchor="end" font-weight="normal" font-family="'Liberation Serif', 'Times New Roman', serif" stroke="#000" stroke-width="0.45"  textLength="7.1" lengthAdjust="spacingAndGlyphs">0</text>
<line x1="219.90" y1="917.50" x2="222.90" y2="917.50" stroke-width="1.4"/>
<text x="214.50" y="923.30" font-size="14.6" text-anchor="end" font-weight="normal" font-family="'Liberation Serif', 'Times New Roman', serif" stroke="#000" stroke-width="0.45"  textLength="14.2" lengthAdjust="spacingAndGlyphs">20</text>
<line x1="219.90" y1="891.30" x2="222.90" y2="891.30" stroke-width="1.4"/>
<text x="214.50" y="897.10" font-size="14.6" text-anchor="end" font-weight="normal" font-family="'Liberation Serif', 'Times New Roman', serif" stroke="#000" stroke-width="0.45"  textLength="14.2" lengthAdjust="spacingAndGlyphs">40</text>
<line x1="219.90" y1="865.10" x2="222.90" y2="865.10" stroke-width="1.4"/>
<text x="214.50" y="870.90" font-size="14.6" text-anchor="end" font-weight="normal" font-family="'Liberation Serif', 'Times New Roman', serif" stroke="#000" stroke-width="0.45"  textLength="14.2" lengthAdjust="spacingAndGlyphs">60</text>
<line x1="219.90" y1="838.90" x2="222.90" y2="838.90" stroke-width="1.4"/>
<text x="214.50" y="844.70" font-size="14.6" text-anchor="end" font-weight="normal" font-family="'Liberation Serif', 'Times New Roman', serif" stroke="#000" stroke-width="0.45"  textLength="14.2" lengthAdjust="spacingAndGlyphs">80</text>
<line x1="219.90" y1="812.70" x2="222.90" y2="812.70" stroke-width="1.4"/>
<text x="214.50" y="818.50" font-size="14.6" text-anchor="end" font-weight="normal" font-family="'Liberation Serif', 'Times New Roman', serif" stroke="#000" stroke-width="0.45"  textLength="21.299999999999997" lengthAdjust="spacingAndGlyphs">100</text>
<line x1="219.90" y1="786.50" x2="222.90" y2="786.50" stroke-width="1.4"/>
<text x="214.50" y="792.30" font-size="14.6" text-anchor="end" font-weight="normal" font-family="'Liberation Serif', 'Times New Roman', serif" stroke="#000" stroke-width="0.45"  textLength="21.299999999999997" lengthAdjust="spacingAndGlyphs">120</text>
<line x1="222.90" y1="786.50" x2="222.90" y2="946.30" stroke-width="1.5"/>
<line x1="222.90" y1="943.70" x2="373.50" y2="943.70" stroke-width="1.5"/>
<line x1="222.90" y1="943.70" x2="222.90" y2="946.70" stroke-width="1.4"/>
<line x1="297.95" y1="943.70" x2="297.95" y2="946.70" stroke-width="1.4"/>
<line x1="373.00" y1="943.70" x2="373.00" y2="946.70" stroke-width="1.4"/>
<rect x="238.75" y="818.46" width="19.90" height="124.59" fill="#fff" stroke="#000" stroke-width="1.3"/>
<rect x="259.30" y="817.02" width="22.70" height="126.68" fill="#000" stroke="none"/>
<line x1="248.70" y1="807.46" x2="248.70" y2="828.16" stroke-width="1.3"/>
<line x1="244.70" y1="807.46" x2="252.70" y2="807.46" stroke-width="1.3"/>
<line x1="244.70" y1="828.16" x2="252.70" y2="828.16" stroke-width="1.3"/>
<line x1="270.65" y1="811.26" x2="270.65" y2="822.79" stroke-width="1.3"/>
<line x1="266.65" y1="811.26" x2="274.65" y2="811.26" stroke-width="1.3"/>
<line x1="266.65" y1="822.79" x2="274.65" y2="822.79" stroke-width="1.3"/>
<rect x="315.25" y="817.67" width="19.90" height="125.38" fill="#fff" stroke="#000" stroke-width="1.3"/>
<rect x="335.80" y="821.22" width="22.70" height="122.49" fill="#000" stroke="none"/>
<line x1="325.20" y1="800.52" x2="325.20" y2="833.53" stroke-width="1.3"/>
<line x1="321.20" y1="800.52" x2="329.20" y2="800.52" stroke-width="1.3"/>
<line x1="321.20" y1="833.53" x2="329.20" y2="833.53" stroke-width="1.3"/>
<line x1="347.15" y1="804.97" x2="347.15" y2="837.46" stroke-width="1.3"/>
<line x1="343.15" y1="804.97" x2="351.15" y2="804.97" stroke-width="1.3"/>
<line x1="343.15" y1="837.46" x2="351.15" y2="837.46" stroke-width="1.3"/>
<text x="260.40" y="960.50" font-size="16" text-anchor="middle" font-weight="normal" font-family="'Liberation Serif', 'Times New Roman', serif" stroke="#000" stroke-width="0.45"  textLength="37.5" lengthAdjust="spacingAndGlyphs">14G2a</text>
<text x="337.20" y="960.80" font-size="16" text-anchor="middle" font-weight="normal" font-family="'Liberation Serif', 'Times New Roman', serif" stroke="#000" stroke-width="0.45"  textLength="24.5" lengthAdjust="spacingAndGlyphs">3G6</text>
<rect x="250.10" y="743.70" width="85.80" height="28.80" fill="#fff" stroke="#000" stroke-width="1.8"/>
<rect x="254.30" y="748.40" width="7.90" height="7.90" fill="#fff" stroke="#000" stroke-width="1.6"/>
<rect x="253.50" y="761.00" width="9.50" height="9.50" fill="#000" stroke="none"/>
<text x="263.40" y="756.00" font-size="12.2" text-anchor="start" font-weight="normal" font-family="'Liberation Serif', 'Times New Roman', serif" stroke="#000" stroke-width="0.35"  textLength="45.3" lengthAdjust="spacingAndGlyphs">EL<tspan font-style="italic">4</tspan>/vec</text>
<text x="263.40" y="769.20" font-size="12.2" text-anchor="start" font-weight="normal" font-family="'Liberation Serif', 'Times New Roman', serif" stroke="#000" stroke-width="0.35"  textLength="59.5" lengthAdjust="spacingAndGlyphs">EL<tspan font-style="italic">4</tspan>/CD59</text>
<text x="322.80" y="766.50" font-size="10" text-anchor="start" font-weight="normal" font-family="'Liberation Serif', 'Times New Roman', serif" stroke="#000" stroke-width="0.55" >+</text>
</g>
<rect x="1" y="1" width="518" height="984" fill="none" stroke="#000" stroke-width="2"/>
</svg></body></html>
